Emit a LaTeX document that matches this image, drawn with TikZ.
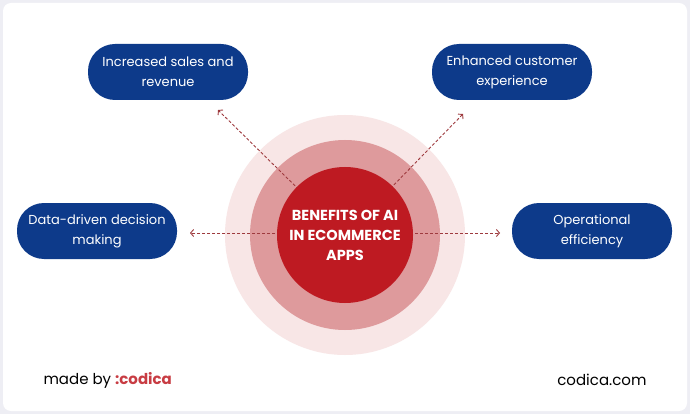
\documentclass[tikz,border=0pt]{standalone}
\usepackage{fontspec}
\setmainfont{Poppins}
\usetikzlibrary{arrows.meta,calc}
\definecolor{pillblue}{HTML}{0D3A8A}
\definecolor{codred}{HTML}{BE1A22}
\definecolor{ringmid}{HTML}{DE9A9C}
\definecolor{ringout}{HTML}{F8E6E6}
\definecolor{arrowred}{HTML}{9E3A3E}
\definecolor{frame}{HTML}{EEEEF4}
\tikzset{
  pill/.style = {fill=pillblue, text=white, rounded corners=27pt,
    minimum width=160pt, minimum height=56pt, align=center,
    font=\fontsize{13}{20}\selectfont},
  link/.style = {arrowred, line width=0.9pt, dash pattern=on 3pt off 2pt,
    -{Straight Barb[length=3pt,width=7pt]}}
}
\begin{document}
\begin{tikzpicture}[x=1pt,y=-1pt]
  % frame
  \fill[frame] (0,0) rectangle (690,414);
  \fill[white,rounded corners=8pt] (3,3) rectangle (687,411);
  \useasboundingbox (0,0) rectangle (690,414);
  % rings
  \fill[ringout] (345,235) circle (120);
  \fill[ringmid] (345,235) circle (95);
  \coordinate (mid) at (345,235);
  % arrows
  \coordinate (salesend) at (218,110);
  \coordinate (custend) at (463,114);
  \coordinate (dataend) at (190,233);
  \coordinate (operend) at (500,233);
  \draw[link] (mid) -- (salesend);
  \draw[link] (mid) -- (custend);
  \draw[link] ($(mid)+(0,-2)$) -- (dataend);
  \draw[link] ($(mid)+(0,-2)$) -- (operend);
  \node[circle, fill=codred, minimum size=136pt, inner sep=0pt, text=white,
    align=center, font=\bfseries\fontsize{14.5}{20}\selectfont] (core) at (mid)
    {BENEFITS OF AI\\IN ECOMMERCE\\APPS};
  % benefits
  \node[pill] (sales) at (168,72) {Increased sales and\\revenue};
  \node[pill] (cust) at (512,72) {Enhanced customer\\experience};
  \node[pill] (data) at (97,231) {Data-driven decision\\making};
  \node[pill] (oper) at (592,231) {Operational\\efficiency};
  % footer
  \node[anchor=west, font=\fontsize{15}{17}\selectfont] (made) at (40,380)
    {made by \textcolor{codred!85!white}{\bfseries:codica}};
  \node[anchor=east, font=\fontsize{15}{17}\selectfont] (site) at (650,380) {codica.com};
\end{tikzpicture}
\end{document}
